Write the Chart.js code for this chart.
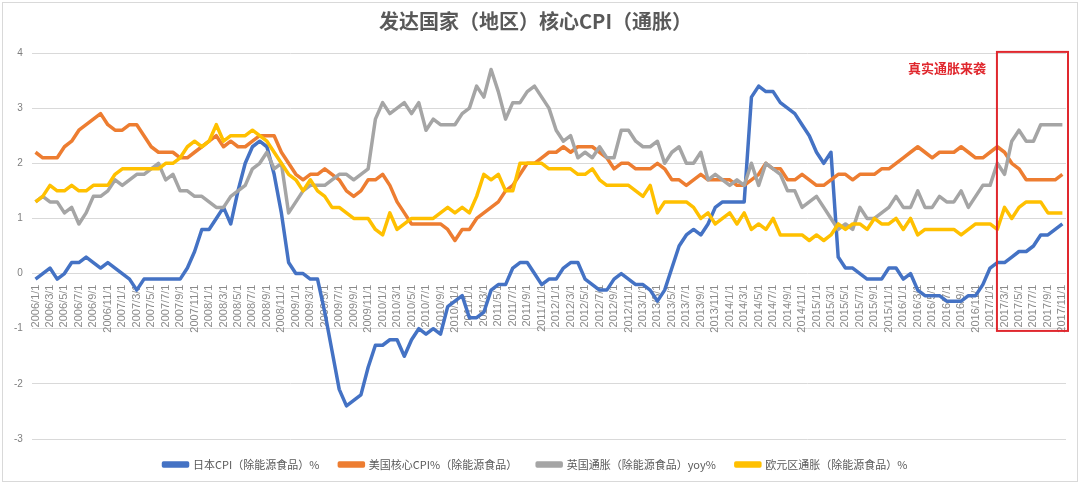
<!DOCTYPE html>
<html>
<head>
<meta charset="utf-8">
<script src="https://cdn.jsdelivr.net/npm/chart.js@4.4.1/dist/chart.umd.min.js"></script>
<style>
  html, body { margin: 0; padding: 0; background: #fff; }
  #caixa { width: 1080px; height: 484px; position: relative; }
</style>
</head>
<body>
<div id="caixa"><canvas id="grafico"></canvas></div>
<script>
// categorias mensais 2006/1/1 .. 2017/11/1
const meses = [];
for (let ano = 2006; ano <= 2017; ano++) {
  for (let m = 1; m <= 12; m++) {
    if (ano === 2017 && m > 11) break;
    meses.push(ano + '/' + m + '/1');
  }
}

const nomes = ['日本CPI（除能源食品）%', '美国核心CPI%（除能源食品）', '英国通胀（除能源食品）yoy%', '欧元区通胀（除能源食品）%'];
const cores = ['#4472C4', '#ED7D31', '#A5A5A5', '#FFC000'];
const ticksY = [-3, -2, -1, 0, 1, 2, 3, 4];

const japao = [
  -0.1, 0.0, 0.1, -0.1, 0.0, 0.2, 0.2, 0.3, 0.2, 0.1,
  0.2, 0.1, 0.0, -0.1, -0.3, -0.1, -0.1, -0.1, -0.1, -0.1,
  -0.1, 0.1, 0.4, 0.8, 0.8, 1.0, 1.2, 0.9, 1.5, 2.0,
  2.3, 2.4, 2.3, 1.8, 1.1, 0.2, 0.0, 0.0, -0.1, -0.1,
  -0.7, -1.4, -2.1, -2.4, -2.3, -2.2, -1.7, -1.3, -1.3, -1.2,
  -1.2, -1.5, -1.2, -1.0, -1.1, -1.0, -1.1, -0.6, -0.5, -0.4,
  -0.8, -0.8, -0.7, -0.3, -0.2, -0.2, 0.1, 0.2, 0.2, 0.0,
  -0.2, -0.1, -0.1, 0.1, 0.2, 0.2, -0.1, -0.2, -0.3, -0.3,
  -0.1, 0.0, -0.1, -0.2, -0.2, -0.3, -0.5, -0.3, 0.1, 0.5,
  0.7, 0.8, 0.7, 0.9, 1.2, 1.3, 1.3, 1.3, 1.3, 3.2,
  3.4, 3.3, 3.3, 3.1, 3.0, 2.9, 2.7, 2.5, 2.2, 2.0,
  2.2, 0.3, 0.1, 0.1, 0.0, -0.1, -0.1, -0.1, 0.1, 0.1,
  -0.1, 0.0, -0.3, -0.4, -0.4, -0.4, -0.5, -0.5, -0.5, -0.4,
  -0.4, -0.2, 0.1, 0.2, 0.2, 0.3, 0.4, 0.4, 0.5, 0.7,
  0.7, 0.8, 0.9
];

const eua = [
  2.2,
  2.1, 2.1, 2.1, 2.3, 2.4, 2.6, 2.7, 2.8, 2.9, 2.7, 2.6, 2.6,
  2.7, 2.7, 2.5, 2.3, 2.2, 2.2, 2.2, 2.1, 2.1, 2.2, 2.3, 2.4,
  2.5, 2.3, 2.4, 2.3, 2.3, 2.4, 2.5, 2.5, 2.5, 2.2, 2.0, 1.8,
  1.7, 1.8, 1.8, 1.9, 1.8, 1.7, 1.5, 1.4, 1.5, 1.7, 1.7, 1.8,
  1.6, 1.3, 1.1, 0.9, 0.9, 0.9, 0.9, 0.9, 0.8, 0.6, 0.8, 0.8,
  1.0, 1.1, 1.2, 1.3, 1.5, 1.6, 1.8, 2.0, 2.0, 2.1, 2.2, 2.2,
  2.3, 2.2, 2.3, 2.3, 2.3, 2.2, 2.1, 1.9, 2.0, 2.0, 1.9, 1.9,
  1.9, 2.0, 1.9, 1.7, 1.7, 1.6, 1.7, 1.8, 1.7, 1.7, 1.7, 1.7,
  1.6, 1.6, 1.7, 1.8, 2.0, 1.9, 1.9, 1.7, 1.7, 1.8, 1.7, 1.6,
  1.6, 1.7, 1.8, 1.8, 1.7, 1.8, 1.8, 1.8, 1.9, 1.9, 2.0, 2.1,
  2.2, 2.3, 2.2, 2.1, 2.2, 2.2, 2.2, 2.3, 2.2, 2.1, 2.1, 2.2,
  2.3, 2.2, 2.0, 1.9, 1.7, 1.7, 1.7, 1.7, 1.7, 1.8
];

const reinoUnido = [
  1.3, 1.4, 1.3, 1.3, 1.1, 1.2, 0.9, 1.1, 1.4, 1.4,
  1.5, 1.7, 1.6, 1.7, 1.8, 1.8, 1.9, 2.0, 1.7, 1.8,
  1.5, 1.5, 1.4, 1.4, 1.3, 1.2, 1.2, 1.4, 1.5, 1.6,
  1.9, 2.0, 2.2, 1.9, 2.0, 1.1, 1.3, 1.5, 1.6, 1.6,
  1.6, 1.7, 1.8, 1.8, 1.7, 1.8, 1.9, 2.8, 3.1, 2.9,
  3.0, 3.1, 2.9, 3.1, 2.6, 2.8, 2.7, 2.7, 2.7, 2.9,
  3.0, 3.4, 3.2, 3.7, 3.3, 2.8, 3.1, 3.1, 3.3, 3.4,
  3.2, 3.0, 2.6, 2.4, 2.5, 2.1, 2.2, 2.1, 2.3, 2.1,
  2.1, 2.6, 2.6, 2.4, 2.3, 2.3, 2.4, 2.0, 2.2, 2.3,
  2.0, 2.0, 2.2, 1.7, 1.8, 1.7, 1.6, 1.7, 1.6, 2.0,
  1.6, 2.0, 1.9, 1.8, 1.5, 1.5, 1.2, 1.3, 1.4, 1.2,
  1.0, 0.8, 0.9, 0.8, 1.2, 1.0, 1.0, 1.1, 1.2, 1.4,
  1.2, 1.2, 1.5, 1.2, 1.2, 1.4, 1.3, 1.3, 1.5, 1.2,
  1.4, 1.6, 1.6, 2.0, 1.8, 2.4, 2.6, 2.4, 2.4, 2.7,
  2.7, 2.7, 2.7
];

const euro = [
  1.3, 1.4, 1.6, 1.5, 1.5, 1.6, 1.5, 1.5, 1.6, 1.6,
  1.6, 1.8, 1.9, 1.9, 1.9, 1.9, 1.9, 1.9, 2.0, 2.0,
  2.1, 2.3, 2.4, 2.3, 2.4, 2.7, 2.4, 2.5, 2.5, 2.5,
  2.6, 2.5, 2.4, 2.2, 2.0, 1.8, 1.7, 1.5, 1.7, 1.5,
  1.4, 1.2, 1.2, 1.1, 1.0, 1.0, 1.0, 0.8, 0.7, 1.1,
  0.8, 0.9, 1.0, 1.0, 1.0, 1.0, 1.1, 1.2, 1.1, 1.2,
  1.1, 1.4, 1.8, 1.7, 1.8, 1.5, 1.5, 2.0, 2.0, 2.0,
  2.0, 1.9, 1.9, 1.9, 1.9, 1.8, 1.8, 1.9, 1.7, 1.6,
  1.6, 1.6, 1.6, 1.5, 1.4, 1.6, 1.1, 1.3, 1.3, 1.3,
  1.3, 1.2, 1.0, 1.1, 0.9, 1.0, 1.1, 0.9, 1.1, 0.8,
  0.9, 0.8, 1.0, 0.7, 0.7, 0.7, 0.7, 0.6, 0.7, 0.6,
  0.7, 0.9, 0.8, 0.9, 0.9, 0.8, 1.0, 0.9, 0.9, 1.0,
  0.8, 1.0, 0.7, 0.8, 0.8, 0.8, 0.8, 0.8, 0.7, 0.8,
  0.9, 0.9, 0.9, 0.8, 1.2, 1.0, 1.2, 1.3, 1.3, 1.3,
  1.1, 1.1, 1.1
];

const series = [japao, eua, reinoUnido, euro];

// caixa vermelha "真实通胀来袭" (2017/2 em diante)
const destaque = {
  id: 'destaque',
  afterDatasetsDraw(chart) {
    const { ctx, chartArea, scales: { x, y } } = chart;
    const esq = x.getPixelForValue(132.95);
    const dir = chartArea.right + 2;
    const topo = y.getPixelForValue(4.02);
    const base = y.getPixelForValue(-1.04);
    ctx.save();
    ctx.strokeStyle = '#E0282E';
    ctx.lineWidth = 2;
    ctx.strokeRect(esq, topo, dir - esq, base - topo);
    ctx.fillStyle = '#E0282E';
    ctx.font = 'bold 13px "Noto Sans CJK SC"';
    ctx.textAlign = 'right';
    ctx.textBaseline = 'middle';
    ctx.fillText('真实通胀来袭', esq - 11, y.getPixelForValue(3.73));
    ctx.restore();
  }
};

const moldura = {
  id: 'moldura',
  beforeDraw(chart) {
    const { ctx, width, height } = chart;
    ctx.save();
    ctx.fillStyle = '#fff';
    ctx.fillRect(0, 0, width, height);
    ctx.strokeStyle = '#d9d9d9';
    ctx.lineWidth = 1;
    ctx.strokeRect(2.5, 2.5, width - 5, height - 5);
    ctx.restore();
  }
};

const ctx = document.getElementById('grafico');

let grafico = new Chart(ctx, {
  type: 'line',
  data: {
    labels: meses,
    datasets: series.map((s, i) => ({
      label: nomes[i],
      data: s,
      borderColor: cores[i],
      backgroundColor: cores[i],
      borderWidth: 3.5,
      pointRadius: 0,
      tension: 0,
      borderJoinStyle: 'round',
      order: 3 - i
    }))
  },
  options: {
    responsive: true,
    maintainAspectRatio: false,
    animation: false,
    layout: { padding: { left: 5, right: 14, top: 0, bottom: 4 } },
    plugins: {
      title: {
        display: true,
        text: '发达国家（地区）核心CPI（通胀）',
        color: '#595959',
        font: { family: '"Noto Sans CJK SC"', size: 20, weight: 'bold' },
        padding: { top: 9, bottom: 20 }
      },
      legend: {
        position: 'bottom',
        labels: {
          boxWidth: 24,
          boxHeight: 3,
          padding: 20,
          color: '#595959',
          font: { family: '"Noto Sans CJK SC"', size: 11 },
          sort: (a, b) => a.datasetIndex - b.datasetIndex
        }
      },
      tooltip: { enabled: false }
    },
    scales: {
      x: {
        type: 'category',
        position: { y: 0 },
        offset: true,
        grid: { display: false },
        border: { display: false },
        ticks: {
          autoSkip: false,
          minRotation: 90,
          maxRotation: 90,
          padding: 3,
          color: '#8a8a8a',
          font: { family: '"Liberation Sans"', size: 11 },
          callback: (v, i) => (i % 2 === 0 ? meses[i] : '')
        }
      },
      y: {
        min: ticksY[0],
        max: ticksY[ticksY.length - 1],
        afterBuildTicks: (eixo) => { eixo.ticks = ticksY.map(v => ({ value: v })); },
        grid: { color: '#d9d9d9', drawTicks: false },
        border: { display: false },
        ticks: {
          padding: 9,
          color: '#7f7f7f',
          font: { family: '"Liberation Sans"', size: 10 }
        }
      }
    }
  },
  plugins: [moldura, destaque]
});
</script>
</body>
</html>
